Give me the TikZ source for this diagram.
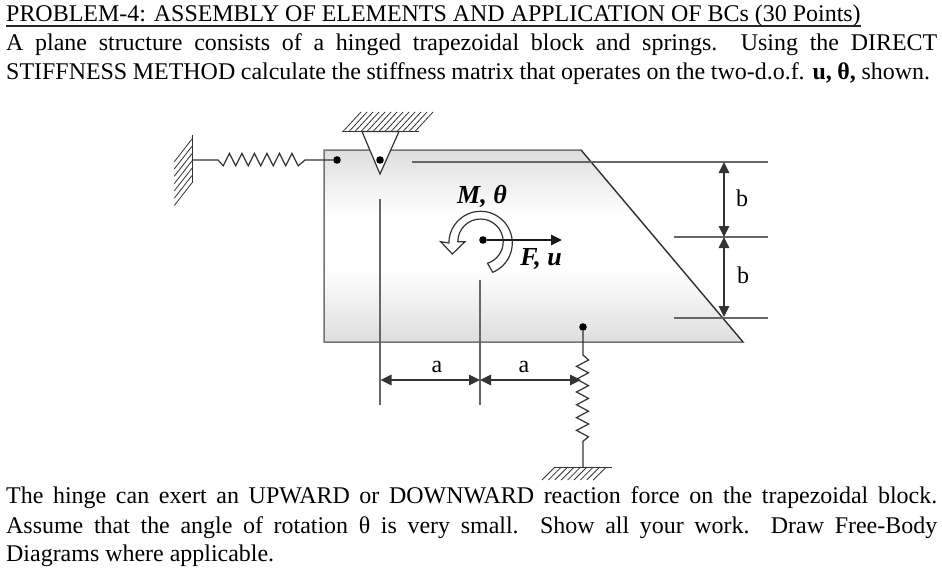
\documentclass[tikz,border=0pt]{standalone}
\usepackage{fontspec}
\setmainfont{Liberation Serif}
\usetikzlibrary{arrows.meta}
\definecolor{blockgray}{gray}{0.87}
\pgfdeclareverticalshading{blockshade}{100bp}{color(0bp)=(blockgray); color(25bp)=(blockgray); color(44bp)=(white); color(58bp)=(white); color(75bp)=(blockgray); color(100bp)=(blockgray)}
\tikzset{
  x=1pt,y=-1pt,
  txt/.style={anchor=base west,inner sep=0pt,font=\fontsize{23.95}{26}\selectfont},
  lab/.style={anchor=base,inner sep=0pt,font=\fontsize{24}{26}\selectfont},
  blab/.style={anchor=base,inner sep=0pt,font=\fontsize{26}{28}\selectfont\bfseries\itshape},
  thin line/.style={line width=1.2pt,draw=black!80},
  guide/.style={line width=1.1pt,draw=black!60},
  hatch/.style={line width=0.8pt,draw=black!80},
  dim/.style={line width=1.1pt,draw=black!80,{Triangle[length=11pt,width=10.5pt]}-{Triangle[length=11pt,width=10.5pt]}},
  pin/.style={circle,fill=black,inner sep=0pt,minimum size=7.6pt},
}
\newcommand{\jline}[2][931pt]{\makebox[#1][s]{#2}}
\begin{document}
\begin{tikzpicture}
\useasboundingbox (0,0) rectangle (942,570);
\fill[white] (0,0) rectangle (942,570);
% text
\node[txt] (t1) at (6,21.7) {PROBLEM-4: ASSEMBLY OF ELEMENTS AND APPLICATION OF BCs (30 Points)};
\draw[line width=1.1pt,black!85] ([yshift=-4.3pt]t1.base west) -- ([yshift=-4.3pt]t1.base east);
\node[txt] (t2) at (6,50.5) {\jline{A plane structure consists of a hinged trapezoidal block and springs.\ \ Using the DIRECT}};
\node[txt] (t3) at (6,79.5) {\jline[924pt]{STIFFNESS METHOD calculate the stiffness matrix that operates on the two-d.o.f. \textbf{u, θ,} shown.}};
\node[txt] (t4) at (6,503) {\jline{The hinge can exert an UPWARD or DOWNWARD reaction force on the trapezoidal block.}};
\node[txt] (t5) at (6,533) {\jline{Assume that the angle of rotation θ is very small.\ \ Show all your work.\ \ Draw Free-Body}};
\node[txt] (t6) at (6,561) {Diagrams where applicable.};
% block
\path[shading=blockshade,shading angle=0,draw=black!55,line width=1.5pt]
  (324,150) -- (581,150) -- (743,342) -- (324,342) -- cycle;
\draw[draw=black!85,line width=0.9pt] (581,150) -- (743,342);
% named points
\coordinate (wallpt) at (192,160);
\node[pin] (leftdot) at (337,160) {};
\node[pin] (hingedot) at (380,160) {};
\node[pin] (centerdot) at (483,240) {};
\node[pin] (lowdot) at (583,327) {};
\coordinate (groundpt) at (583,467);
\coordinate (forcetip) at (562,240);
% left wall
\draw[hatch] (192,135) -- (192,183);
\foreach \y in {139,146.3,...,184} \draw[hatch] (192,\y) -- (174.3,\y+22.7);
% left spring
\draw[thin line] (wallpt) -- (218,160) -- ++(5.2,5.8)
  \foreach \i in {1,...,6}{ -- ++(6.25,-12.4) -- ++(6.25,12.4)} -- ++(6.8,-5.8) -- (leftdot);
% hinge
\draw[thin line,fill=white] (362,131.5) -- (399,131.5) -- (380,174) -- cycle;
\node[pin] at (hingedot) {};
\draw[hatch] (342,131.5) -- (419,131.5);
\foreach \x in {343,349,...,420} \draw[hatch] (\x,131.5) -- (\x+18,112);
% lower spring
\draw[thin line] (lowdot) -- (583,355) -- ++(5.5,5)
  \foreach \i in {1,...,6}{ -- ++(-12,6.4) -- ++(12,6.4)} -- ++(-5.5,4.5) -- (groundpt);
\draw[hatch] (555,467) -- (612,467);
\foreach \x in {555,561.4,...,611} \draw[hatch] (\x,467) -- (\x-13,480);
% guides
\coordinate (g1a) at (412,162); \coordinate (g1b) at (768,162);
\coordinate (g2a) at (674,237); \coordinate (g2b) at (768,237);
\coordinate (g3a) at (674,318); \coordinate (g3b) at (768,318);
\draw[guide] (g1a) -- (g1b);
\draw[guide] (g2a) -- (g2b);
\draw[guide] (g3a) -- (g3b);
\coordinate (v1a) at (380,199); \coordinate (v1b) at (380,405);
\coordinate (v2a) at (480,280); \coordinate (v2b) at (480,405);
\draw[guide] (v1a) -- (v1b);
\draw[guide] (v2a) -- (v2b);
% dimensions
\coordinate (da) at (380.5,380); \coordinate (db) at (480,380); \coordinate (dc) at (581,380);
\draw[dim] (da) -- (db);
\draw[dim] (db) -- (dc);
\coordinate (ea) at (724,162); \coordinate (eb) at (724,237); \coordinate (ec) at (724,317);
\draw[dim] (ea) -- (eb);
\draw[dim] (eb) -- (ec);
\node[lab] (la1) at (437,372) {a};
\node[lab] (la2) at (524,372) {a};
\node[lab] (lb1) at (742,206) {b};
\node[lab] (lb2) at (743,283) {b};
% force
\draw[line width=1.2pt,draw=black!90,-{Triangle[length=11pt,width=10.5pt]}] (centerdot) -- (forcetip);
\node[blab] (lF) at (541,265) {F, u};
\node[blab] (lM) at (482,203) {M, θ};
% moment arrow
\draw[thin line] (492.7,272.3) arc[start angle=67.5,end angle=-180,radius=31.7]
  -- (440.7,241.7) -- (452.3,254) -- (465,241.7) -- (457.8,241.7)
  arc[start angle=-180,end angle=72,radius=22.7] -- cycle;
\end{tikzpicture}
\end{document}
